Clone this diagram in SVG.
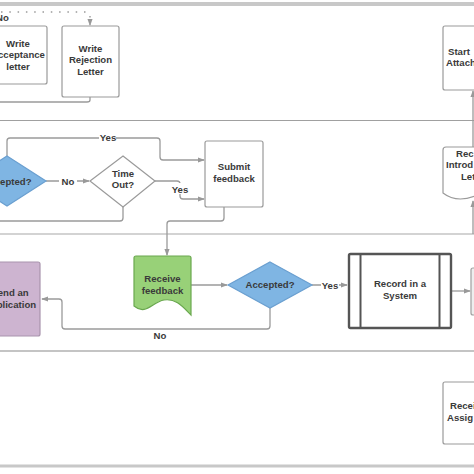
<svg xmlns="http://www.w3.org/2000/svg" width="474" height="474" viewBox="0 0 474 474">
<defs>
<marker id="ah" viewBox="0 0 8 8" refX="7" refY="4" markerWidth="7" markerHeight="7" markerUnits="userSpaceOnUse" orient="auto">
<path d="M0,1 L8,4 L0,7 Z" fill="#999"/>
</marker>
<style>
.t{font-family:"Liberation Sans",Arial,sans-serif;font-size:9.6px;font-weight:bold;fill:#3a3a3a;text-anchor:middle}
.ts{font-family:"Liberation Sans",Arial,sans-serif;font-size:9.6px;font-weight:bold;fill:#3a3a3a;text-anchor:start}
.lbl{font-family:"Liberation Sans",Arial,sans-serif;font-size:9.6px;font-weight:bold;fill:#3a3a3a;text-anchor:middle}
.box{fill:#fff;stroke:#9a9a9a;stroke-width:1.2}
.c{fill:none;stroke:#9a9a9a;stroke-width:1.3}
.ca{fill:none;stroke:#9a9a9a;stroke-width:1.3;marker-end:url(#ah)}
</style>
</defs>
<rect width="474" height="474" fill="#fff"/>
<g id="lanes">
<line x1="0" y1="4" x2="474" y2="4" stroke="#c8c8c8" stroke-width="4"/>
<line x1="0" y1="120.5" x2="474" y2="120.5" stroke="#a0a0a0" stroke-width="1"/>
<line x1="0" y1="234" x2="474" y2="234" stroke="#a8a8a8" stroke-width="1.2"/>
<line x1="0" y1="351" x2="474" y2="351" stroke="#c4c4c4" stroke-width="2"/>
<line x1="0" y1="466" x2="474" y2="466" stroke="#c8c8c8" stroke-width="3"/>
</g>
<g id="connectors">
<path d="M1,12 H86 Q90,12 90,16 V25" fill="none" stroke="#9a9a9a" stroke-width="1.4" stroke-dasharray="1.5,6.8" marker-end="url(#ah)"/>
<path class="c" d="M90,97 V100 Q90,102 87,102 H0"/>
<path class="ca" d="M7,156 V141 Q7,138 10,138 H157 Q160,138 160,141 V157 Q160,160 163,160 H204"/>
<path class="ca" d="M46,181 H89"/>
<path class="ca" d="M155,181 H177 Q180,181 180,184 V196 Q180,199 183,199 H204"/>
<path class="c" d="M123,207 V218 Q123,221 120,221 H0"/>
<path class="ca" d="M224,207 V218 Q224,221 221,221 H170 Q167,221 167,224 V255"/>
<path class="ca" d="M191,285 H227"/>
<path class="ca" d="M312,285 H347"/>
<path class="ca" d="M270,308 V326 Q270,329 267,329 H65 Q62,329 62,326 V302 Q62,299 59,299 H42"/>
<path class="ca" d="M451,291 H470"/>
<path class="ca" d="M473,234 V201"/>
<path class="ca" d="M473,147 V91"/>
<rect x="99" y="131" width="17" height="12" fill="#fff"/>
<text class="lbl" x="108" y="140.5">Yes</text>
<rect x="59" y="175" width="18" height="12" fill="#fff"/>
<text class="lbl" x="68" y="184.5">No</text>
<rect x="170" y="183" width="20" height="11" fill="#fff"/>
<text class="lbl" x="180" y="192.5">Yes</text>
<rect x="321" y="279" width="18" height="12" fill="#fff"/>
<text class="lbl" x="330" y="288.5">Yes</text>
<text class="lbl" x="160" y="338.5">No</text>
<text class="ts" x="-4" y="20.5">No</text>
</g>
<g id="write-acceptance">
<rect class="box" x="-11" y="26" width="58" height="58" rx="2"/>
<text class="t" x="18" y="46.5">Write</text>
<text class="t" x="18" y="58">Acceptance</text>
<text class="t" x="18" y="69.5">letter</text>
</g>
<g id="write-rejection">
<rect class="box" x="62" y="26" width="57" height="71" rx="2"/>
<text class="t" x="90.5" y="51.5">Write</text>
<text class="t" x="90.5" y="63">Rejection</text>
<text class="t" x="90.5" y="74.5">Letter</text>
</g>
<g id="start-attach">
<rect class="box" x="443" y="26" width="60" height="64" rx="2"/>
<text class="ts" x="448" y="54.5">Start</text>
<text class="ts" x="446" y="65.5">Attach</text>
</g>
<g id="accepted-1">
<path d="M7,156 L46,181 L7,206 L-32,181 Z" fill="#7fb5e3" stroke="#6a9fd0" stroke-width="1.2"/>
<text class="t" x="7" y="184.5">Accepted?</text>
</g>
<g id="time-out">
<path d="M123,156 L155,181 L123,207 L90,181 Z" fill="#fff" stroke="#9a9a9a" stroke-width="1.2"/>
<text class="t" x="123" y="176.5">Time</text>
<text class="t" x="123" y="188">Out?</text>
</g>
<g id="submit-feedback">
<rect class="box" x="205" y="141" width="58" height="66" rx="2"/>
<text class="t" x="234" y="170">Submit</text>
<text class="t" x="234" y="181.5">feedback</text>
</g>
<g id="receive-intro">
<path d="M443,150 Q443,147 446,147 H511 V197 C495,190 485,193 475,196 C462,201 452,200 443,193 Z" fill="#fff" stroke="#9a9a9a" stroke-width="1.2"/>
<text class="ts" x="456" y="156.5">Rec</text>
<text class="ts" x="446" y="168">Introd</text>
<text class="ts" x="461" y="179.5">Let</text>
</g>
<g id="send-application">
<rect x="-20" y="262" width="60" height="74" rx="2" fill="#cdb4d0" stroke="#a994ad" stroke-width="1.2"/>
<text class="t" x="10" y="296">Send an</text>
<text class="t" x="10" y="307.5">Application</text>
</g>
<g id="receive-feedback">
<path d="M134,258 Q134,256 136,256 H189 Q191,256 191,258 V315 C183,307 176,298 164,300 C152,302 146,316 134,306 Z" fill="#98d178" stroke="#6aa84f" stroke-width="1.2"/>
<text class="t" x="162.5" y="282">Receive</text>
<text class="t" x="162.5" y="293.5">feedback</text>
</g>
<g id="accepted-2">
<path d="M270,262 L312,285 L270,308 L228,285 Z" fill="#7fb5e3" stroke="#6a9fd0" stroke-width="1.2"/>
<text class="t" x="270" y="287.5">Accepted?</text>
</g>
<g id="record-system">
<rect x="349" y="254" width="102" height="74" rx="1.5" fill="#fff" stroke="#555" stroke-width="2.4"/>
<line x1="360.5" y1="254" x2="360.5" y2="328" stroke="#555" stroke-width="2"/>
<line x1="439.5" y1="254" x2="439.5" y2="328" stroke="#555" stroke-width="2"/>
<text class="t" x="400" y="287">Record in a</text>
<text class="t" x="400" y="298.5">System</text>
</g>
<g id="next-step">
<rect x="471" y="268" width="30" height="47" rx="2" fill="#eee" stroke="#a0a0a0" stroke-width="1.2"/>
</g>
<g id="receive-assign">
<rect class="box" x="443" y="382" width="60" height="62" rx="2"/>
<text class="ts" x="450" y="409">Recei</text>
<text class="ts" x="447" y="420.5">Assig</text>
</g>
</svg>
